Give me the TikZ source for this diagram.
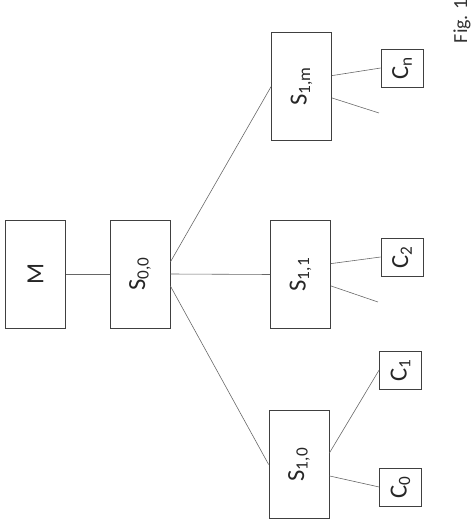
\documentclass[tikz,border=0pt]{standalone}
\usepackage{fontspec}
\setmainfont{Carlito}
\usetikzlibrary{calc}

\tikzset{
  blk/.style={draw=black!75, line width=0.6pt, minimum width=3.24cm, minimum height=1.8cm,
    inner sep=0pt, font=\fontsize{21}{25}\selectfont, text=black!85},
  cblk/.style={blk, minimum width=1.14cm, minimum height=1.26cm},
  wire/.style={draw=black!60, line width=0.5pt}
}

\begin{document}
\begin{tikzpicture}[x=3mm, y=3mm, rotate=90, transform shape]
\useasboundingbox (0,0) rectangle (52.5,47.4);
% top: memory and root switch
\node[blk] (m) at (25.1,43.85) {M};
\node[blk] (s00) at (25.1,33.4) {S\textsubscript{0,0}};
% second level
\node[blk] (s10) at (6.05,17.5) {S\textsubscript{1,0}};
\node[blk] (s11) at (25.05,17.35) {S\textsubscript{1,1}};
\node[blk] (s1m) at (43.85,17.25) {S\textsubscript{1,m}};
% leaves
\node[cblk] (c0) at (3.8,7.35) {C\textsubscript{0}};
\node[cblk] (c1) at (15.5,7.35) {C\textsubscript{1}};
\node[cblk] (c2) at (26.8,7.2) {C\textsubscript{2}};
\node[cblk] (cn) at (45.7,7.2) {C\textsubscript{n}};
\coordinate (s11x) at (22.3,9.6);
\coordinate (s1mx) at (41.2,9.5);
\node[font=\fontsize{17}{20}\selectfont, text=black!80] (fig) at (50.4,1.2) {Fig. 1};

\draw[wire] (m.south) -- (s00.north);
\draw[wire] ($(s00.south)!0.22!(s00.south west)$) -- (s10.north);
\draw[wire] (s00.south) -- (s11.north);
\draw[wire] ($(s00.south)!0.22!(s00.south east)$) -- (s1m.north);

\draw[wire] ($(s10.south)!0.21!(s10.south west)$) -- (c0.north);
\draw[wire] ($(s10.south)!0.21!(s10.south east)$) -- (c1.north);
\draw[wire] ($(s11.south)!0.2!(s11.south east)$) -- (c2.north);
\draw[wire] ($(s11.south)!0.21!(s11.south west)$) -- (s11x);
\draw[wire] ($(s1m.south)!0.2!(s1m.south east)$) -- (cn.north);
\draw[wire] ($(s1m.south)!0.21!(s1m.south west)$) -- (s1mx);
\end{tikzpicture}
\end{document}
